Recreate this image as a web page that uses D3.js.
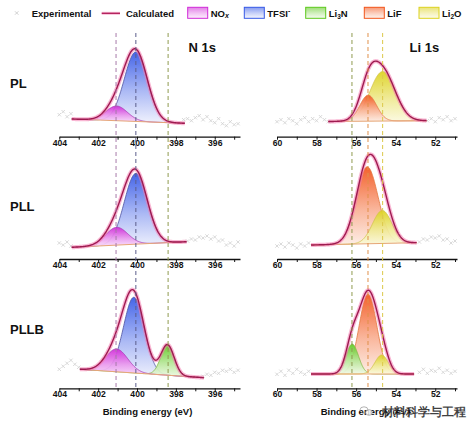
<!DOCTYPE html>
<html>
<head>
<meta charset="utf-8">
<title>N 1s / Li 1s XPS fits</title>
<script src="https://d3js.org/d3.v7.min.js"></script>
<style>
  body { margin: 0; background: #fff; }
  svg text { font-family: Arial, "Liberation Sans", sans-serif; font-weight: bold; fill: #111; }
</style>
</head>
<body>
<svg id="xps"></svg>
<script>
// ---- values ----
const samples = ["PL", "PLL", "PLLB"];
const nTicks = [404, 402, 400, 398, 396];
const liTicks = [60, 58, 56, 54, 52];
const legendItems = ["NOx", "TFSI", "Li3N", "LiF", "Li2O"];

// dashed guides (eV)
const nGuides = [["NOx", 401.08], ["TFSI", 400.06], ["Li3N", 398.40]];
const liGuides = [["Li3N", 56.21], ["LiF", 55.40], ["Li2O", 54.66]];

// fitted components: [species, centre eV, height a.u., FWHM eV]
const fitN_PL   = [["TFSI", 400.06, 69.5, 1.40], ["NOx", 401.05, 14.7, 1.30]];
const fitN_PLL  = [["TFSI", 400.06, 70.8, 1.40], ["NOx", 401.05, 17.8, 1.35]];
const fitN_PLLB = [["TFSI", 400.16, 75.7, 1.25], ["Li3N", 398.43, 30.3, 0.80], ["NOx", 401.05, 22.8, 1.35]];
const fitLi_PL   = [["Li2O", 54.66, 49.5, 1.50], ["LiF", 55.39, 26.0, 1.00]];
const fitLi_PLL  = [["LiF", 55.44, 77.0, 1.30], ["Li2O", 54.68, 33.0, 1.15]];
const fitLi_PLLB = [["LiF", 55.40, 80.0, 1.05], ["Li3N", 56.20, 30.0, 0.75], ["Li2O", 54.71, 19.0, 0.80]];

// fit window with linear background: [start eV, bg, end eV, bg]
const bgN_PL   = [403.36, 7.7, 397.54, 3.4];
const bgN_PLL  = [403.36, 1.7, 397.45, 7.3];
const bgN_PLLB = [402.94, 9.0, 396.56, 0.6];
const bgLi_PL   = [57.41, 5.2, 52.44, 6.0];
const bgLi_PLL  = [58.28, 4.0, 52.94, 6.3];
const bgLi_PLLB = [58.28, 4.3, 53.07, 4.3];

// experimental points visible outside the fit window: [eV, a.u.]
const expN_PL = [[404.0,12],[403.8,15],[403.6,10],[403.4,13],
  [397.6,7],[397.4,8],[397.2,6],[397.0,9],[396.8,11],[396.6,7],[396.4,10],[396.2,6],
  [396.0,4],[395.8,8],[395.6,3],[395.4,1],[395.2,5],[395.0,2],[394.8,3]];
const expN_PLL = [[404.0,6],[403.8,4],[403.6,7],[403.4,3],
  [397.4,8],[397.2,10],[397.0,9],[396.8,12],[396.6,11],[396.4,13],[396.2,10],[396.0,12],
  [395.8,8],[395.6,9],[395.4,4],[395.2,6],[395.0,3],[394.8,7]];
const expN_PLLB = [[404.0,9],[403.8,12],[403.6,15],[403.4,18],[403.2,14],[403.0,11],
  [396.6,2],[396.4,4],[396.2,3],[396.0,6],[395.8,5],[395.6,8],[395.4,7],[395.2,9],[395.0,6],[394.8,8]];
const expLi_PL = [[60.0,5],[59.8,7],[59.6,4],[59.4,8],[59.2,6],[59.0,3],[58.8,7],[58.6,9],
  [58.4,5],[58.2,8],[58.0,6],[57.8,10],[57.6,7],[57.4,5],
  [52.4,6],[52.2,8],[52.0,5],[51.8,9],[51.6,7],[51.4,10],[51.2,6],[51.0,8]];
const expLi_PLL = [[60.0,3],[59.8,5],[59.6,2],[59.4,6],[59.2,4],[59.0,1],[58.8,5],[58.6,3],[58.4,6],
  [52.8,7],[52.6,10],[52.4,9],[52.2,12],[52.0,11],[51.8,13],[51.6,9],[51.4,10],[51.2,6],[51.0,8]];
const expLi_PLLB = [[60.0,4],[59.8,7],[59.6,3],[59.4,8],[59.2,5],[59.0,9],[58.8,6],[58.6,4],[58.4,7],
  [52.8,6],[52.6,9],[52.4,5],[52.2,8],[52.0,7],[51.8,10],[51.6,6],[51.4,8],[51.2,5],[51.0,7]];

// ---- styling ----
const colors = {
  NOx:  { top: "#d02ad8", bottom: "#fce6fc", edge: "#a43cb2", guide: "#a87aa9" },
  TFSI: { top: "#3558e6", bottom: "#eff1fd", edge: "#4c509e", guide: "#5c5e8c" },
  Li3N: { top: "#5cc81c", bottom: "#f1fae8", edge: "#86b84a", guide: "#8f9a50" },
  LiF:  { top: "#f2541a", bottom: "#fdede5", edge: "#e27a44", guide: "#e0904a" },
  Li2O: { top: "#dcd21e", bottom: "#fbf9df", edge: "#d2c24a", guide: "#dcc84a" }
};
const rowAxisY = [136.7, 259, 388.3];

const svg = d3.select("#xps").attr("width", 474).attr("height", 428);
const defs = svg.append("defs");

Object.keys(colors).forEach(k => {
  const g = defs.append("linearGradient").attr("id", "grad-" + k)
    .attr("x1", 0).attr("y1", 0).attr("x2", 0).attr("y2", 1);
  g.append("stop").attr("offset", 0).attr("stop-color", colors[k].top);
  g.append("stop").attr("offset", 0.55).attr("stop-color", d3.interpolateRgb(colors[k].top, colors[k].bottom)(0.6));
  g.append("stop").attr("offset", 1).attr("stop-color", colors[k].bottom);
});

const xN = d3.scaleLinear().domain([404, 394.7]).range([59.3, 240]);
const xLi = d3.scaleLinear().domain([60, 50.9]).range([277, 457]);

const bgAt = (e, bg) => bg[1] + (e - bg[0]) / (bg[2] - bg[0]) * (bg[3] - bg[1]);
const peak = (e, p) => p[2] * Math.exp(-4 * Math.LN2 * (e - p[1]) ** 2 / (p[3] * p[3]));

function drawPanel(x, axisY, fit, bg, exp, ticks) {
  const y = d3.scaleLinear().domain([0, 100]).range([axisY - 10, axisY - 110]);
  const g = svg.append("g");
  const energies = d3.range(0, 241).map(i => bg[0] + (bg[2] - bg[0]) * i / 240);

  // experimental
  g.selectAll(".exp").data(exp).join("path")
    .attr("transform", d => `translate(${x(d[0])},${y(d[1])})`)
    .attr("d", d3.symbol().type(d3.symbolX).size(9))
    .attr("fill", "none").attr("stroke", "#cfcfcf").attr("stroke-width", 0.8);

  // components, tallest first so small ones sit on top
  const area = d3.area().x(d => x(d.e)).y0(d => y(d.b)).y1(d => y(d.b + d.v));
  fit.slice().sort((a, b) => b[2] - a[2]).forEach(p => {
    const pts = energies.map(e => ({ e, b: bgAt(e, bg), v: peak(e, p) }));
    g.append("path").datum(pts).attr("d", area)
      .attr("fill", `url(#grad-${p[0]})`).attr("fill-opacity", 0.92);
    g.append("path").datum(pts)
      .attr("d", d3.line().x(d => x(d.e)).y(d => y(d.b + d.v)))
      .attr("fill", "none").attr("stroke", colors[p[0]].edge).attr("stroke-width", 0.8);
  });

  // background
  g.append("line")
    .attr("x1", x(bg[0])).attr("y1", y(bg[1])).attr("x2", x(bg[2])).attr("y2", y(bg[3]))
    .attr("stroke", "#e6a677").attr("stroke-width", 1);

  // envelope
  const env = energies.map(e => [e, bgAt(e, bg) + d3.sum(fit, p => peak(e, p))]);
  const envLine = d3.line().x(d => x(d[0])).y(d => y(d[1]));
  g.append("path").datum(env).attr("d", envLine)
    .attr("fill", "none").attr("stroke", "#f47aae").attr("stroke-opacity", 0.55).attr("stroke-width", 4);
  g.append("path").datum(env).attr("d", envLine)
    .attr("fill", "none").attr("stroke", "#9e1a50").attr("stroke-width", 1.4);

  // axis
  const lo = Math.ceil(x.domain()[1]), hi = Math.floor(x.domain()[0]);
  const ax = g.append("g").attr("transform", `translate(0,${axisY})`)
    .call(d3.axisBottom(x).tickValues(d3.range(lo, hi + 1))
      .tickFormat(d => ticks.includes(d) ? d : "")
      .tickSize(3).tickSizeOuter(0).tickPadding(0));
  ax.select(".domain").attr("stroke", "#111").attr("stroke-width", 1.3);
  ax.selectAll(".tick line").attr("stroke", "#111").attr("stroke-width", 1);
  ax.selectAll("text").attr("font-size", 8.6).attr("font-family", "Arial, 'Liberation Sans', sans-serif")
    .attr("font-weight", "bold").attr("fill", "#111");
}

const fitsN = [fitN_PL, fitN_PLL, fitN_PLLB];
const fitsLi = [fitLi_PL, fitLi_PLL, fitLi_PLLB];
const bgsN = [bgN_PL, bgN_PLL, bgN_PLLB];
const bgsLi = [bgLi_PL, bgLi_PLL, bgLi_PLLB];
const expsN = [expN_PL, expN_PLL, expN_PLLB];
const expsLi = [expLi_PL, expLi_PLL, expLi_PLLB];

samples.forEach((s, i) => {
  drawPanel(xN, rowAxisY[i], fitsN[i], bgsN[i], expsN[i], nTicks);
  drawPanel(xLi, rowAxisY[i], fitsLi[i], bgsLi[i], expsLi[i], liTicks);
});

// dashed guides across all three rows
const guides = svg.append("g");
[[xN, nGuides], [xLi, liGuides]].forEach(([x, list]) => {
  guides.selectAll(null).data(list).join("line")
    .attr("x1", d => x(d[1])).attr("x2", d => x(d[1]))
    .attr("y1", 33).attr("y2", rowAxisY[2] - 1)
    .attr("stroke", d => colors[d[0]].guide).attr("stroke-width", 1)
    .attr("stroke-dasharray", "4,3");
});

// sample labels and core-level titles
const rowLabelY = [88.3, 211, 334];
svg.selectAll(".sample").data(samples).join("text")
  .attr("x", 10).attr("y", (d, i) => rowLabelY[i]).attr("font-size", 13).text(d => d);
svg.append("text").attr("x", 188.5).attr("y", 51.7).attr("font-size", 13).text("N 1s");
svg.append("text").attr("x", 409.5).attr("y", 51.7).attr("font-size", 13).text("Li 1s");

svg.append("text").attr("x", 147.5).attr("y", 414.5).attr("font-size", 9.5)
  .attr("text-anchor", "middle").text("Binding energy (eV)");
svg.append("text").attr("x", 365.5).attr("y", 414.5).attr("font-size", 9.5)
  .attr("text-anchor", "middle").text("Binding energy (eV)");

// legend
const leg = svg.append("g").attr("font-size", 9.5);
leg.append("path").attr("transform", "translate(16.7,13)")
  .attr("d", d3.symbol().type(d3.symbolX).size(9))
  .attr("stroke", "#cfcfcf").attr("fill", "none");
leg.append("text").attr("x", 31.7).attr("y", 16.5).attr("font-size", 9.5).text("Experimental");
leg.append("line").attr("x1", 101.7).attr("x2", 120).attr("y1", 13.3).attr("y2", 13.3)
  .attr("stroke", "#f47aae").attr("stroke-opacity", 0.5).attr("stroke-width", 3);
leg.append("line").attr("x1", 101.7).attr("x2", 120).attr("y1", 13.3).attr("y2", 13.3)
  .attr("stroke", "#b01c58").attr("stroke-width", 1.3);
leg.append("text").attr("x", 126).attr("y", 16.5).attr("font-size", 9.5).text("Calculated");

const boxX = [187.7, 244.3, 305.7, 364.3, 419];
legendItems.forEach((k, i) => {
  leg.append("rect").attr("x", boxX[i]).attr("y", 7.3).attr("width", 20).attr("height", 11)
    .attr("fill", `url(#grad-${k})`).attr("fill-opacity", 0.6)
    .attr("stroke", colors[k].top).attr("stroke-width", 1);
  const t = leg.append("text").attr("x", boxX[i] + 23).attr("y", 16.5).attr("font-size", 9.5);
  if (k === "NOx") {
    t.append("tspan").text("NO");
    t.append("tspan").attr("font-size", 7).attr("font-style", "italic").attr("dy", 1).text("x");
  } else if (k === "TFSI") {
    t.append("tspan").text("TFSI");
    t.append("tspan").attr("font-size", 7).attr("dy", -3.5).text("-");
  } else if (k === "Li3N" || k === "Li2O") {
    t.append("tspan").text("Li");
    t.append("tspan").attr("font-size", 6.5).attr("dy", 2).text(k[2]);
    t.append("tspan").attr("dy", -2).text(k[3]);
  } else {
    t.text(k);
  }
});

// watermark (sits over the right axis title, as in the source image)
const wm = svg.append("g").attr("opacity", 0.8);
wm.append("ellipse").attr("cx", 364).attr("cy", 410).attr("rx", 4).attr("ry", 3.2)
  .attr("fill", "none").attr("stroke", "#8a8a8a").attr("stroke-width", 0.8);
wm.append("ellipse").attr("cx", 369).attr("cy", 412.5).attr("rx", 3.4).attr("ry", 2.8)
  .attr("fill", "#fff").attr("stroke", "#8a8a8a").attr("stroke-width", 0.8);
wm.append("text").attr("x", 382).attr("y", 415.5).attr("font-size", 11.5)
  .attr("font-family", "'Noto Sans CJK SC', sans-serif").attr("font-weight", "normal")
  .attr("fill", "#8a8a8a").attr("stroke", "#ffffff").attr("stroke-width", 0.6)
  .attr("paint-order", "stroke").text("材料科学与工程");
</script>
</body>
</html>
